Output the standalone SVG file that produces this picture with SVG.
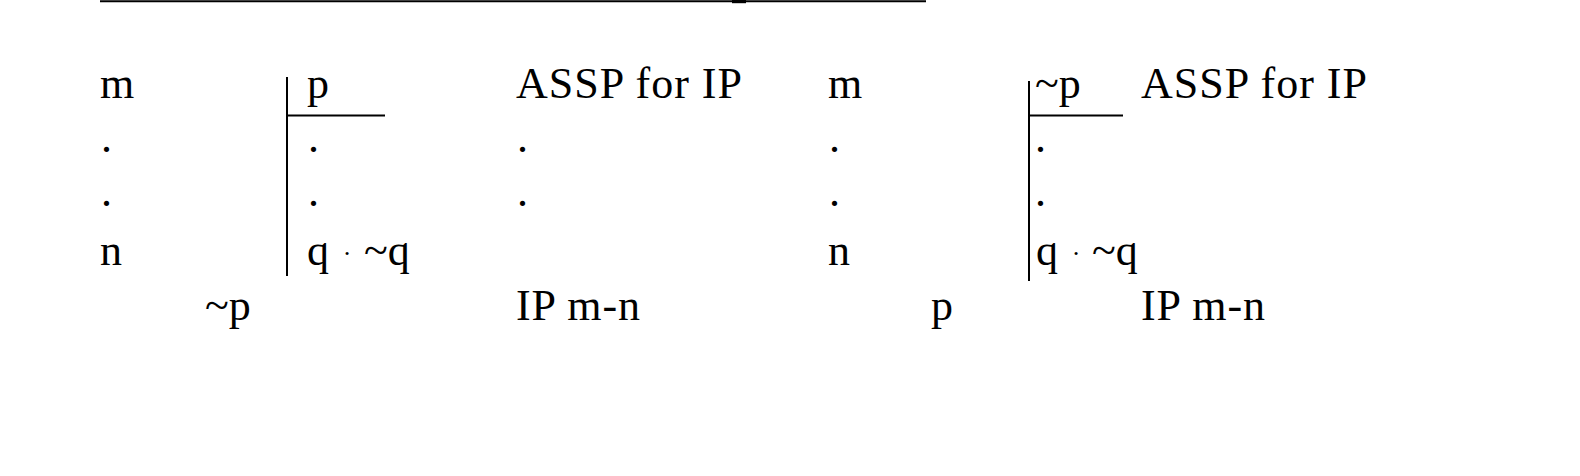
<svg xmlns="http://www.w3.org/2000/svg" width="1580" height="476" viewBox="0 0 1580 476">
<style>
  .t { font-family: "Liberation Serif", "Times New Roman", serif; font-size: 44px; fill: #000; }
  .md { font-size: 26px; text-anchor: middle; }
  .ln { stroke: #000; stroke-width: 2; fill: none; }
</style>
<rect width="1580" height="476" fill="#fff"/>
<g id="connectors">
  <line class="ln" x1="100" y1="1.2" x2="926" y2="1.2" stroke-width="2.5"/>
  <rect x="732" y="0" width="14" height="3.2" fill="#000"/>
  <line class="ln" x1="287" y1="77" x2="287" y2="276"/>
  <line class="ln" x1="287" y1="115.5" x2="385" y2="115.5"/>
  <line class="ln" x1="1029" y1="81" x2="1029" y2="281"/>
  <line class="ln" x1="1029" y1="115.5" x2="1123" y2="115.5"/>
</g>
<g id="proof-left">
  <text class="t" x="100" y="98">m</text>
  <text class="t" x="101" y="152">.</text>
  <text class="t" x="101" y="206">.</text>
  <text class="t" x="100" y="265">n</text>
  <text class="t" x="205" y="320">~p</text>
  <text class="t" x="307" y="98">p</text>
  <text class="t" x="308" y="152">.</text>
  <text class="t" x="308" y="206">.</text>
  <text class="t" x="307" y="265">q</text>
  <text class="t md" x="347" y="262">·</text>
  <text class="t" x="364" y="265">~q</text>
  <text class="t" x="516" y="98" textLength="226" lengthAdjust="spacing">ASSP for IP</text>
  <text class="t" x="517" y="152">.</text>
  <text class="t" x="517" y="206">.</text>
  <text class="t" x="516" y="320" textLength="124" lengthAdjust="spacing">IP m-n</text>
</g>
<g id="proof-right">
  <text class="t" x="828" y="98">m</text>
  <text class="t" x="829" y="152">.</text>
  <text class="t" x="829" y="206">.</text>
  <text class="t" x="828" y="265">n</text>
  <text class="t" x="931" y="320">p</text>
  <text class="t" x="1035" y="98">~p</text>
  <text class="t" x="1035" y="152">.</text>
  <text class="t" x="1035" y="206">.</text>
  <text class="t" x="1036" y="265">q</text>
  <text class="t md" x="1076" y="262">·</text>
  <text class="t" x="1092" y="265">~q</text>
  <text class="t" x="1141" y="98" textLength="226" lengthAdjust="spacing">ASSP for IP</text>
  <text class="t" x="1141" y="320" textLength="124" lengthAdjust="spacing">IP m-n</text>
</g>
</svg>
